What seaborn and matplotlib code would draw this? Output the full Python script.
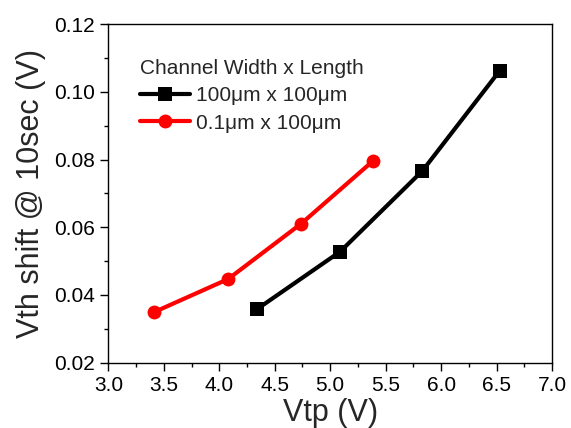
import numpy as np
import pandas as pd
import matplotlib
matplotlib.use('Agg')
import matplotlib.pyplot as plt
import seaborn as sns
from matplotlib.ticker import MultipleLocator

# data
vtp_wide = [4.34, 5.09, 5.83, 6.53]
shift_wide = [0.0358, 0.0528, 0.0766, 0.1063]
vtp_narrow = [3.41, 4.08, 4.74, 5.39]
shift_narrow = [0.0349, 0.0447, 0.0611, 0.0797]

label_wide = '100\u03bcm x 100\u03bcm'
label_narrow = '0.1\u03bcm x 100\u03bcm'

df = pd.DataFrame({
    'vtp': vtp_wide + vtp_narrow,
    'shift': shift_wide + shift_narrow,
    'device': [label_wide] * len(vtp_wide) + [label_narrow] * len(vtp_narrow),
})

sns.set_style('ticks')
plt.rcParams['font.family'] = ['Liberation Sans', 'DejaVu Sans']

fig = plt.figure(figsize=(5.71, 4.28), dpi=100)
ax = fig.add_axes([0.1897, 0.1526, 0.777, 0.791])

sns.lineplot(data=df, x='vtp', y='shift', hue='device', style='device',
             palette={label_wide: 'black', label_narrow: '#ff0000'},
             markers={label_wide: 's', label_narrow: 'o'}, dashes=False,
             sort=False, linewidth=3, markersize=10, markeredgewidth=0,
             ax=ax)

ax.set_xlim(3.0, 7.0)
ax.set_ylim(0.02, 0.12)
ax.xaxis.set_major_locator(MultipleLocator(0.5))
ax.xaxis.set_minor_locator(MultipleLocator(0.25))
ax.yaxis.set_major_locator(MultipleLocator(0.02))
ax.yaxis.set_minor_locator(MultipleLocator(0.01))
ax.xaxis.set_major_formatter(matplotlib.ticker.FormatStrFormatter('%.1f'))
ax.yaxis.set_major_formatter(matplotlib.ticker.FormatStrFormatter('%.2f'))
ax.tick_params(which='major', direction='out', length=6, width=1, labelsize=15, colors='black')
ax.tick_params(which='minor', direction='out', length=3, width=1, colors='black')
for s in ax.spines.values():
    s.set_linewidth(1)
    s.set_color('black')

ax.set_xlabel('Vtp (V)', fontsize=22, labelpad=2)
ax.set_ylabel('Vth shift @ 10sec (V)', fontsize=22, labelpad=6)

handles, labels = ax.get_legend_handles_labels()
leg = ax.legend(handles, labels, title='Channel Width x Length', loc='upper left',
                bbox_to_anchor=(0.071, 0.897), frameon=False, fontsize=15,
                title_fontsize=15, alignment='left', handlelength=2.4,
                handletextpad=0.3, labelspacing=0.4, borderaxespad=0,
                borderpad=0)

fig.savefig('out.png', dpi=100)
